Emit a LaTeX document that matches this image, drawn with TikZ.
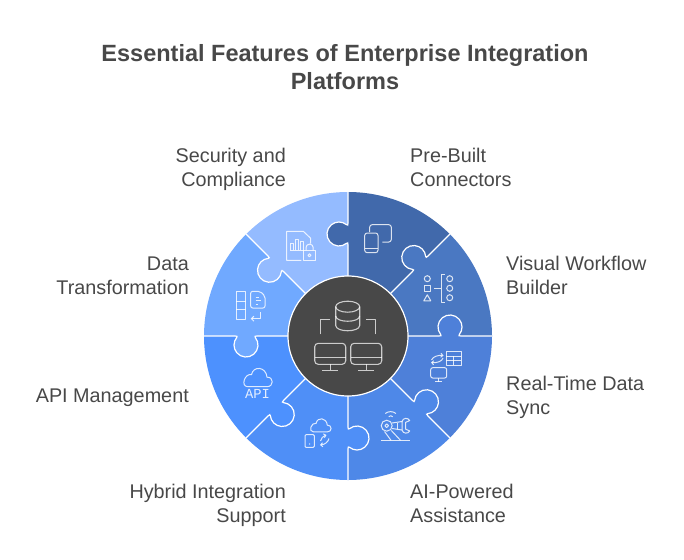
\documentclass[tikz,border=0pt]{standalone}
\usepackage{fontspec}
\setmainfont{Liberation Sans}
\setmonofont{Liberation Mono}
\usetikzlibrary{arrows.meta}

\definecolor{inkgrey}{HTML}{484848}
\definecolor{hubgrey}{HTML}{484848}
\definecolor{wedgea}{HTML}{4169AB}
\definecolor{wedgeb}{HTML}{4A78C2}
\definecolor{wedgec}{HTML}{4E80D9}
\definecolor{wedged}{HTML}{4E88E8}
\definecolor{wedgee}{HTML}{4F8FF7}
\definecolor{wedgef}{HTML}{4D91FE}
\definecolor{wedgeg}{HTML}{70A9FF}
\definecolor{wedgeh}{HTML}{94BBFF}

\tikzset{
  titletext/.style={font=\fontsize{23.5}{28}\selectfont\bfseries, text=inkgrey, align=center},
  lefttext/.style={font=\fontsize{19.8}{24}\selectfont, text=inkgrey, align=right, anchor=base east, inner sep=0pt},
  righttext/.style={font=\fontsize{19.8}{24}\selectfont, text=inkgrey, align=left, anchor=base west, inner sep=0pt},
  iconline/.style={draw=white, draw opacity=.82, line width=1pt, line join=round},
  hubline/.style={draw=white, draw opacity=.72, line width=1.1pt, line join=round},
}

% cloud outline, box of 29 by 18
\def\cloudpath{(5,18) -- (24,18) .. controls (31,18) and (31,8) .. (24,8.5)
  .. controls (23,-2.5) and (10,-3) .. (8.5,6) .. controls (2,4) and (-3,18) .. (5,18) -- cycle}

\begin{document}
\begin{tikzpicture}[x=1pt,y=-1pt]
\useasboundingbox (0,0) rectangle (684,559);

% title
\node[titletext] (title) at (345,67) {Essential Features of Enterprise Integration\\Platforms};

% pie pieces, going round from the top right
\begin{scope}[shift={(348,336)},y=1pt]
\foreach \a/\c in {45/wedgea,0/wedgeb,-45/wedgec,-90/wedged,-135/wedgee,180/wedgef,135/wedgeg,90/wedgeh}{
  \fill[\c] (0,0) -- (\a:144) arc[start angle=\a, delta angle=45, radius=144] -- cycle;
}
\end{scope}

% seam with its knob, the knob takes the colour of the piece before it
\foreach \a/\c in {90/wedgea,45/wedgeb,0/wedgec,-45/wedged,-90/wedgee,-135/wedgef,180/wedgeg,135/wedgeh}{
  \begin{scope}[shift={(348,336)},rotate=\a,y=1pt]
    \fill[\c] (102,9) circle[radius=12];
    \draw[white,line width=1.2pt] (60,0) -- (91,0) .. controls (93,0) and (93.6,.4) .. (92.8,1.3)
      arc[start angle=-140, end angle=-400, radius=12]
      .. controls (110.4,.4) and (111,0) .. (113,0) -- (144,0);
  \end{scope}
}

% centre disc
\node[circle, draw=white, line width=1.2pt, fill=hubgrey, minimum size=120pt, inner sep=0pt] (hub) at (348,336) {};

% database in the disc
\draw[hubline] (347.7,306.7) ellipse[x radius=12, y radius=5.5];
\draw[hubline] (335.7,306.7) -- (335.7,325.5) .. controls (336,332.5) and (359.4,332.5) .. (359.7,325.5) -- (359.7,306.7);
\draw[hubline] (335.7,316) .. controls (336,323) and (359.4,323) .. (359.7,316);
\draw[hubline] (320.7,334.3) -- (320.7,319.3) -- (329.7,319.3);
\draw[hubline] (375.3,334.3) -- (375.3,319.3) -- (366.3,319.3);
\foreach \x in {0,36}{
  \draw[hubline, rounded corners=3.5] (314.7+\x,343.3) rectangle (345.7+\x,364.3);
  \draw[hubline] (314.7+\x,357.7) -- (345.7+\x,357.7);
  \draw[hubline] (330.2+\x,364.3) -- (330.2+\x,370.3);
  \draw[hubline] (322.3+\x,370.3) -- (338+\x,370.3);
}

% security icon
\draw[iconline] (301.3,260.3) -- (286.7,260.3) -- (286.7,231.3) -- (303.3,231.3) -- (310.7,238.3) -- (310.7,243.7);
\foreach \x/\h in {292/243,297/239.3,302/241.7}{
  \draw[iconline] (\x-1.5,250.3) -- (\x-1.5,\h) -- (\x+1.5,\h) -- (\x+1.5,250.3);
}
\draw[iconline] (290,250.3) -- (304,250.3);
\draw[iconline] (303.3,250.3) rectangle (315.7,260.3);
\draw[iconline] (306,250.3) -- (306,247.5) arc[start angle=180, end angle=360, x radius=3.6, y radius=3.4] -- (313.2,250.3);
\draw[iconline] (309.4,255.3) circle[radius=1.5];

% data icon
\draw[iconline] (236.3,291.3) rectangle (245.7,319.3);
\draw[iconline] (236.3,301.3) -- (245.7,301.3);
\draw[iconline] (236.3,309.7) -- (245.7,309.7);
\draw[iconline, rounded corners=2] (250.7,291.3) -- (260,291.3) -- (265,296) -- (265,308) -- (250.7,308) -- cycle;
\foreach \y/\x in {297/259,300.5/261,304.3/258}{
  \draw[iconline] (255.5,\y) -- (\x,\y);
}
\draw[iconline, -{Straight Barb[length=2.5pt,width=5pt]}] (260.7,312) -- (260.7,318.7) -- (250.7,318.7);

% connectors icon
\draw[iconline, rounded corners=2.5] (364.7,233) rectangle (378,252.7);
\draw[iconline] (364.7,248.7) -- (378,248.7);
\draw[iconline, rounded corners=2.5] (369.7,232) -- (369.7,224.7) -- (391.3,224.7) -- (391.3,242) -- (382.3,242);

% workflow icon
\draw[iconline] (427.3,278.7) circle[radius=3];
\draw[iconline] (424.3,285.3) rectangle (430.3,291.3);
\draw[iconline] (427.3,294.8) -- (430.8,300.8) -- (423.8,300.8) -- cycle;
\draw[iconline] (434,288.3) -- (441.3,288.3);
\draw[iconline] (444.7,274.7) -- (441.3,274.7) -- (441.3,302) -- (444.7,302);
\foreach \y in {278.7,288.3,297.7}{
  \draw[iconline] (449.7,\y) circle[radius=3];
}

% data sync icon
\draw[iconline] (446,351.7) rectangle (461,365);
\draw[iconline] (446,356) -- (461,356);
\draw[iconline] (446,360.3) -- (461,360.3);
\draw[iconline] (453.3,356) -- (453.3,365);
\draw[iconline, -{Straight Barb[length=2pt,width=4pt]}] (431.5,360) .. controls (433,356.5) and (438,355) .. (443.5,355.5);
\draw[iconline, -{Straight Barb[length=2pt,width=4pt]}] (443,358) .. controls (442,361.5) and (437,363) .. (431,362.5);
\draw[iconline, rounded corners=2] (430.7,367.7) rectangle (446.7,378);
\draw[iconline] (438.7,378) -- (438.7,381.5);
\draw[iconline] (435,381.5) -- (442.4,381.5);

% assistance icon
\draw[iconline] (381.3,440.3) -- (409.7,440.3);
\draw[iconline] (384.5,431.5) -- (391,440.3);
\draw[iconline] (391.3,430.5) -- (400.5,440.3);
\draw[iconline] (386.7,425.7) circle[radius=5.5];
\draw[iconline] (386.7,425.7) circle[radius=1.8];
\draw[iconline] (392,423) -- (402,421.5) -- (402,430) -- (392,428.5);
\draw[iconline] (397,422.5) -- (397,429);
\draw[iconline] (402,421.5) .. controls (403,417.5) and (408,417.5) .. (409.7,420.5) -- (405.5,422.5) -- (405.5,429) -- (409.7,431) .. controls (408,434) and (403,434) .. (402,430);
\draw[iconline] (385.3,413.5) .. controls (388,411) and (393,411) .. (396,413.5);
\draw[iconline] (388.7,416.7) .. controls (390,415.5) and (391.5,415.5) .. (392.7,416.7);

% hybrid icon
\begin{scope}[shift={(310,419)},scale=.72]
  \draw[iconline] \cloudpath;
\end{scope}
\draw[iconline, rounded corners=1] (305,434.7) rectangle (314.3,447.3);
\fill[white, opacity=.82] (309.6,444) circle[radius=.7];
\draw[iconline, -{Straight Barb[length=2pt,width=4pt]}] (320.5,441) .. controls (321,438.5) and (323,436) .. (326.5,435);
\draw[iconline, -{Straight Barb[length=2pt,width=4pt]}] (329,438.5) .. controls (328,442) and (325,444.5) .. (320,445);

% api icon
\begin{scope}[shift={(243,368.7)}]
  \draw[iconline] \cloudpath;
\end{scope}
\node[font=\fontsize{13.8}{14}\ttfamily, text=white, text opacity=.85, inner sep=0pt] (apitag) at (257.5,393.5) {API};

% labels
\node[lefttext] (security) at (286,186) {Security and\\Compliance};
\node[righttext] (prebuilt) at (410,186) {Pre-Built\\Connectors};
\node[lefttext] (data) at (189,294) {Data\\Transformation};
\node[righttext] (workflow) at (506,294) {Visual Workflow\\Builder};
\node[lefttext] (api) at (189,402) {API Management};
\node[righttext] (sync) at (506,414) {Real-Time Data\\Sync};
\node[lefttext] (hybrid) at (286,522) {Hybrid Integration\\Support};
\node[righttext] (assist) at (410,522) {AI-Powered\\Assistance};

\end{tikzpicture}
\end{document}
